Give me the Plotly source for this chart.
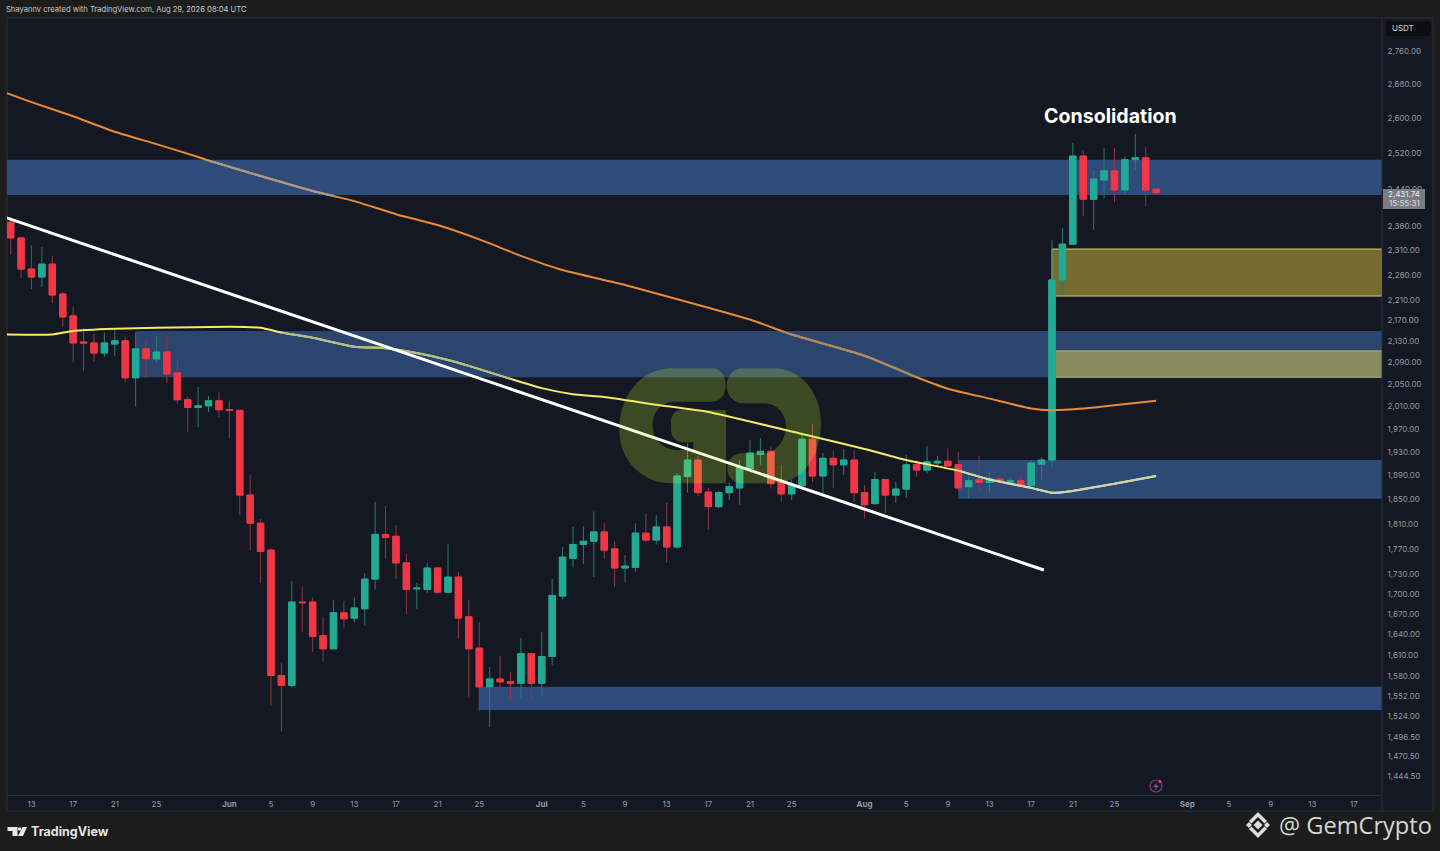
import re
import pandas as pd
import plotly.graph_objects as go

# daily candles, 11 May to 29 Aug, grouped by month
opens = [2369, 2336, 2272, 2256, 2282, 2222, 2179, 2129, 2127, 2108, 2125, 2131, 2062, 2116, 2097, 2110, 2071, 2022, 2008, 2011, 2020,
         2004, 2003, 1857, 1811, 1768, 1581, 1567, 1688, 1688, 1638, 1619, 1672, 1664, 1678, 1723, 1793, 1790, 1748, 1708, 1707, 1740, 1703, 1726, 1666, 1620, 1565, 1576, 1572, 1570, 1612,
         1570, 1608, 1697, 1755, 1777, 1782, 1797, 1770, 1740, 1741, 1795, 1784, 1805, 1773, 1888, 1916, 1862, 1838, 1861, 1869, 1901, 1926, 1931, 1878, 1859, 1873, 1952, 1889, 1919, 1908, 1916,
         1861, 1843, 1883, 1857, 1867, 1908, 1899, 1911, 1914, 1908, 1871, 1883, 1878, 1884, 1879, 1881, 1873, 1909, 1916, 2250, 2323, 2513, 2418, 2460, 2480, 2438, 2505, 2509, 2440]
highs = [2376, 2338, 2321, 2317, 2299, 2226, 2197, 2156, 2145, 2147, 2152, 2139, 2147, 2133, 2141, 2139, 2095, 2027, 2045, 2029, 2035,
         2020, 2004, 1891, 1818, 1771, 1599, 1720, 1712, 1695, 1666, 1691, 1690, 1695, 1732, 1846, 1839, 1808, 1762, 1717, 1748, 1741, 1777, 1734, 1691, 1658, 1593, 1609, 1586, 1635, 1613,
         1644, 1723, 1773, 1805, 1806, 1830, 1811, 1782, 1760, 1811, 1827, 1824, 1844, 1894, 1945, 1923, 1869, 1864, 1878, 1916, 1950, 1954, 1938, 1908, 1883, 1963, 1979, 1928, 1933, 1935, 1933,
         1874, 1896, 1884, 1879, 1925, 1916, 1940, 1923, 1936, 1930, 1891, 1923, 1896, 1891, 1886, 1891, 1916, 1921, 2331, 2357, 2543, 2527, 2482, 2531, 2531, 2513, 2563, 2534, 2441]
lows = [2301, 2254, 2232, 2236, 2204, 2158, 2090, 2074, 2092, 2101, 2103, 2054, 2010, 2062, 2090, 2053, 2015, 1965, 1973, 2000, 1991,
        1954, 1824, 1768, 1717, 1539, 1504, 1564, 1644, 1614, 1601, 1618, 1650, 1658, 1653, 1707, 1755, 1723, 1670, 1678, 1702, 1700, 1702, 1634, 1551, 1531, 1510, 1564, 1547, 1548, 1547,
        1551, 1596, 1692, 1741, 1746, 1726, 1755, 1711, 1718, 1734, 1781, 1777, 1748, 1771, 1861, 1856, 1800, 1836, 1849, 1841, 1900, 1908, 1868, 1846, 1849, 1871, 1879, 1859, 1869, 1891, 1846,
        1819, 1841, 1828, 1844, 1852, 1888, 1893, 1904, 1905, 1864, 1852, 1862, 1861, 1864, 1876, 1866, 1871, 1883, 1904, 2220, 2322, 2382, 2353, 2420, 2412, 2429, 2482, 2403, 2430]
closes = [2336, 2272, 2256, 2282, 2220, 2177, 2127, 2127, 2108, 2127, 2131, 2062, 2116, 2097, 2110, 2069, 2022, 2008, 2011, 2020, 2004,
          2003, 1857, 1811, 1766, 1581, 1567, 1688, 1687, 1637, 1619, 1672, 1663, 1679, 1723, 1793, 1788, 1748, 1707, 1709, 1740, 1703, 1726, 1664, 1619, 1565, 1576, 1572, 1570, 1612, 1570,
          1608, 1698, 1757, 1777, 1782, 1797, 1768, 1740, 1743, 1795, 1784, 1805, 1773, 1889, 1916, 1861, 1838, 1861, 1871, 1903, 1928, 1931, 1876, 1859, 1873, 1952, 1889, 1919, 1908, 1916, 1861,
          1841, 1883, 1857, 1867, 1908, 1899, 1913, 1914, 1906, 1869, 1881, 1878, 1884, 1879, 1881, 1873, 1911, 1916, 2250, 2323, 2513, 2418, 2462, 2480, 2438, 2505, 2509, 2438, 2432]
dates = pd.date_range("2026-05-11", periods=len(opens))

# moving averages
ma_orange_dates = ["2026-05-10 15:00", "2026-05-13", "2026-05-17", "2026-05-21", "2026-05-25", "2026-05-29", "2026-05-30", "2026-06-01", "2026-06-05",
                   "2026-06-09", "2026-06-11", "2026-06-13", "2026-06-17", "2026-06-21", "2026-06-25", "2026-06-29", "2026-07-03", "2026-07-09",
                   "2026-07-17", "2026-07-21", "2026-07-24", "2026-07-25", "2026-08-01", "2026-08-05", "2026-08-06", "2026-08-09", "2026-08-13",
                   "2026-08-17", "2026-08-19", "2026-08-22", "2026-08-25", "2026-08-29"]
ma_orange = [2658, 2637, 2604, 2568, 2540, 2511, 2503, 2489, 2462,
             2436, 2425, 2414, 2386, 2363, 2333, 2299, 2270, 2240,
             2195, 2172, 2150, 2143, 2103, 2071, 2063, 2042, 2024,
             2006, 2003, 2006, 2012, 2020]
ma_yellow_dates = ["2026-05-10 15:00", "2026-05-15", "2026-05-17", "2026-05-21", "2026-05-25", "2026-06-01", "2026-06-04", "2026-06-06", "2026-06-09",
                   "2026-06-13", "2026-06-16", "2026-06-19", "2026-06-22", "2026-06-24", "2026-06-28", "2026-07-01", "2026-07-04", "2026-07-07",
                   "2026-07-12", "2026-07-17", "2026-07-26", "2026-08-01", "2026-08-05", "2026-08-10", "2026-08-13", "2026-08-17", "2026-08-19",
                   "2026-08-21", "2026-08-25", "2026-08-29"]
ma_yellow = [2143, 2143, 2150, 2154, 2156, 2158, 2156, 2147, 2137,
             2120, 2117, 2108, 2095, 2084, 2060, 2043, 2032, 2027,
             2013, 2000, 1961, 1935, 1916, 1898, 1883, 1869, 1861,
             1864, 1876, 1889]

trend_dates = ["2026-05-10 15:00", "2026-08-18 05:00"]
trend_prices = [2378, 1737]

axis_start = "2026-05-10 15:32"
axis_end = "2026-09-19 16:36"

zone_starts = [axis_start, "2026-05-23", "2026-08-10", "2026-06-25"]
zone_tops = [2505, 2150, 1916, 1565]
zone_bottoms = [2427, 2063, 1851, 1533]
olive_starts = ["2026-08-19", "2026-08-19"]
olive_tops = [2313, 2112]
olive_bottoms = [2218, 2063]

price_ticks = [2760, 2680, 2600, 2520, 2440, 2360, 2310, 2260, 2210, 2170, 2130, 2090, 2050, 2010, 1970, 1930, 1890, 1850, 1810,
               1770, 1730, 1700, 1670, 1640, 1610, 1580, 1552, 1524, 1496.5, 1470.5, 1444.5]
date_ticks = ["2026-05-13", "2026-05-17", "2026-05-21", "2026-05-25", "2026-06-01", "2026-06-05", "2026-06-09", "2026-06-13", "2026-06-17",
              "2026-06-21", "2026-06-25", "2026-07-01", "2026-07-05", "2026-07-09", "2026-07-13", "2026-07-17", "2026-07-21", "2026-07-25",
              "2026-08-01", "2026-08-05", "2026-08-09", "2026-08-13", "2026-08-17", "2026-08-21", "2026-08-25", "2026-09-01", "2026-09-05",
              "2026-09-09", "2026-09-13", "2026-09-17"]
date_labels = ["13", "17", "21", "25", "Jun", "5", "9", "13", "17", "21", "25", "Jul", "5", "9", "13", "17", "21", "25",
               "Aug", "5", "9", "13", "17", "21", "25", "Sep", "5", "9", "13", "17"]

BG = "#1c1c1c"
PANEL = "#141823"
GRID = "#2a2e39"
UP = "#22ab94"
DOWN = "#f23645"
ZONE_COLORS = ["#2f4b7c", "#2b456e", "#2d4975", "#2f4a7c"]
OLIVE_FILLS = ["#766c32", "#878a5c"]
OLIVE_EDGES = ["#d9d070", "#b5b780"]
LABEL = "#9598a1"
LEFT, RIGHT, TOP, BOTTOM = 7, 1382, 18, 795


def px(x):
    return (x - LEFT) / (RIGHT - LEFT)


def py(y):
    return (BOTTOM - y) / (BOTTOM - TOP)


# turn a path written in screen pixels into paper coordinates
def paper_path(path, ox=0, oy=0, k=1):
    def conv(m):
        return f"{px(ox + float(m[1]) * k):.5f},{py(oy + float(m[2]) * k):.5f}"
    return re.sub(r"(-?[\d.]+),(-?[\d.]+)", conv, path)


def path_shape(path, fill, layer="above", line=None, width=0):
    return dict(type="path", xref="paper", yref="paper", path=path, fillcolor=fill, layer=layer,
                line=dict(color=line or fill, width=width))


def note(text, x, y, size, color=LABEL, anchor="left", family="Inter"):
    return dict(text=text, xref="paper", yref="paper", x=px(x), y=py(y), xanchor=anchor, yanchor="middle",
                showarrow=False, font=dict(size=size, color=color, family=family))


fig = go.Figure()

# full candles give the dim wicks, the second trace repaints the bodies
fig.add_trace(go.Candlestick(x=dates, open=opens, high=highs, low=lows, close=closes, whiskerwidth=0,
                             increasing=dict(line=dict(color="#2b7a70", width=1), fillcolor=UP),
                             decreasing=dict(line=dict(color="#8f3843", width=1), fillcolor=DOWN),
                             hoverinfo="skip", showlegend=False))
fig.add_trace(go.Candlestick(x=dates, open=opens, close=closes, whiskerwidth=0,
                             high=[max(o, c) for o, c in zip(opens, closes)],
                             low=[min(o, c) for o, c in zip(opens, closes)],
                             increasing=dict(line=dict(color=UP, width=1), fillcolor=UP),
                             decreasing=dict(line=dict(color=DOWN, width=1), fillcolor=DOWN),
                             hoverinfo="skip", showlegend=False))


def add_line(x, y, color, width=2, shape="spline"):
    fig.add_trace(go.Scatter(x=x, y=y, mode="lines", line=dict(color=color, width=width, shape=shape, smoothing=0.5),
                             hoverinfo="skip", showlegend=False))


add_line(ma_orange_dates, ma_orange, "#ea8a32")
add_line(ma_orange_dates[6:11], ma_orange[6:11], "#a89a8a")
add_line(ma_orange_dates[20:25], ma_orange[20:25], "#b08a62")
add_line(ma_yellow_dates, ma_yellow, "#f5e96a")
add_line(ma_yellow_dates[7:15], ma_yellow[7:15], "#b4bc8a")
add_line(ma_yellow_dates[23:], ma_yellow[23:], "#d0d4b0")
add_line(trend_dates, trend_prices, "#ffffff", 3, "linear")

shapes = [
    dict(type="rect", xref="paper", yref="paper", x0=px(7), x1=px(1433), y0=py(811), y1=py(18),
         fillcolor=PANEL, line=dict(color=GRID, width=1), layer="below"),
]
for start, top, bottom, color in zip(zone_starts, zone_tops, zone_bottoms, ZONE_COLORS):
    shapes.append(dict(type="rect", xref="x", yref="y", x0=start, x1=axis_end, y0=bottom, y1=top,
                       fillcolor=color, line=dict(width=0), layer="below"))
for start, top, bottom, fill, edge in zip(olive_starts, olive_tops, olive_bottoms, OLIVE_FILLS, OLIVE_EDGES):
    shapes.append(dict(type="rect", xref="x", yref="y", x0=start, x1=axis_end, y0=bottom, y1=top,
                       fillcolor=fill, line=dict(color=edge, width=1), layer="below"))

# right axis frame down to the date row
shapes.append(dict(type="line", xref="paper", yref="paper", x0=px(1382), x1=px(1382), y0=py(811), y1=py(18),
                   line=dict(color=GRID, width=1)))

# green watermark
logo_fill = "rgba(209,255,48,0.215)"
logo_g = ("M215,40 L335,40 C365,40 377,65 377,90 C377,115 365,140 335,140 L225,140 C180,140 158,175 158,210 "
          "C158,255 190,285 235,285 L280,285 L280,262 L250,262 C228,262 213,245 213,225 L213,200 C213,180 225,165 245,165 "
          "L378,165 L378,385 L215,385 C125,385 58,315 58,225 C58,120 125,40 215,40 Z")
logo_d = ("M430,40 L520,40 C600,40 663,110 663,205 C663,300 610,385 520,385 L425,385 C398,385 382,365 382,340 "
          "C382,315 400,295 425,295 L490,295 C530,295 558,250 558,215 C558,175 530,145 490,145 L430,145 "
          "C400,145 380,120 380,92 C380,60 400,40 430,40 Z")
shapes.append(path_shape(paper_path(logo_g, 600, 355, 1 / 3), logo_fill))
shapes.append(path_shape(paper_path(logo_d, 600, 355, 1 / 3), logo_fill))

# USDT box and last price tag
shapes.append(dict(type="rect", xref="paper", yref="paper", x0=px(1386), x1=px(1431), y0=py(36), y1=py(21),
                   fillcolor="#0e0e10", line=dict(width=0)))
shapes.append(dict(type="rect", xref="paper", yref="paper", x0=px(1383), x1=px(1425), y0=py(209), y1=py(189),
                   fillcolor="#787b84", line=dict(width=0)))

# lightning marker
shapes.append(dict(type="circle", xref="paper", yref="paper", x0=px(1150), x1=px(1162), y0=py(792), y1=py(780),
                   line=dict(color="#7d3a86", width=1.2), fillcolor="rgba(0,0,0,0)"))
shapes.append(path_shape(paper_path("M1157.5,782 L1153,787 L1156,787 L1154.5,790.5 L1159,785.5 L1156,785.5 Z"), "#9a4aa0"))
shapes.append(dict(type="circle", xref="paper", yref="paper", x0=px(1158.5), x1=px(1161.5), y0=py(783), y1=py(780),
                   line=dict(width=0), fillcolor="#e8456a"))

# TradingView mark
tv_white = "#e8e8e8"
shapes.append(path_shape(paper_path("M7.5,827 L17.5,827 L17.5,836 L12.5,836 L12.5,831 L7.5,831 Z"), tv_white))
shapes.append(dict(type="circle", xref="paper", yref="paper", x0=px(17.8), x1=px(21.4), y0=py(830.8), y1=py(827.2),
                   line=dict(width=0), fillcolor=tv_white))
shapes.append(path_shape(paper_path("M22.5,827 L27,827 L23,836 L18,836 Z"), tv_white))

# Binance diamond mark
bn = "#dcdcdc"
shapes.append(path_shape(paper_path("M1258,820.5 L1262.5,825 L1258,829.5 L1253.5,825 Z"), bn))
shapes.append(path_shape(paper_path("M1249,822 L1252,825 L1249,828 L1246,825 Z"), bn))
shapes.append(path_shape(paper_path("M1267,822 L1270,825 L1267,828 L1264,825 Z"), bn))
shapes.append(path_shape(paper_path("M1258,812 L1267,821 L1264.5,823.5 L1258,817 L1251.5,823.5 L1249,821 Z"), bn))
shapes.append(path_shape(paper_path("M1258,838 L1267,829 L1264.5,826.5 L1258,833 L1251.5,826.5 L1249,829 Z"), bn))

annotations = [
    note("Shayannv created with TradingView.com, Aug 29, 2026 08:04 UTC", 4, 9.5, 7.6, "#c9c9c9"),
    note("<b>Consolidation</b>", 1110.5, 116, 19.6, "#ffffff", "center"),
    note("USDT", 1390, 28.5, 8, "#d6d6d6"),
    note("2,431.74", 1404, 194, 8, "#eeeeee", "center"),
    note("15:55:31", 1404, 203, 8, "#d8d8d8", "center"),
    note("<b>TradingView</b>", 29, 831.5, 12.5, "#e6e6e6"),
    note("@ GemCrypto", 1277, 825, 23.6, "#d6d6d6", family="Open Sans"),
]

fig.update_layout(
    width=1440,
    height=851,
    margin=dict(l=LEFT, r=1440 - RIGHT, t=TOP, b=851 - BOTTOM, autoexpand=False),
    paper_bgcolor=BG,
    plot_bgcolor=PANEL,
    boxgap=0.12,
    shapes=shapes,
    annotations=annotations,
    showlegend=False,
    xaxis=dict(
        type="date",
        range=[axis_start, axis_end],
        rangeslider=dict(visible=False),
        showgrid=False,
        zeroline=False,
        showline=True,
        linecolor=GRID,
        tickmode="array",
        tickvals=date_ticks,
        ticktext=[f"<b>{t}</b>" if t.isalpha() else t for t in date_labels],
        ticks="outside",
        ticklen=1,
        tickcolor="rgba(0,0,0,0)",
        tickfont=dict(size=8, color=LABEL, family="Inter"),
    ),
    yaxis=dict(
        type="log",
        side="right",
        range=[3.1526, 3.4537],
        showgrid=False,
        zeroline=False,
        showline=False,
        tickmode="array",
        tickvals=price_ticks,
        ticktext=[f"{p:,.2f}" for p in price_ticks],
        ticks="outside",
        ticklen=3,
        tickcolor="rgba(0,0,0,0)",
        tickfont=dict(size=8, color=LABEL, family="Inter"),
    ),
)

fig.write_html("out.html", config={"displayModeBar": False}, post_script="document.body.style.margin='0';")
